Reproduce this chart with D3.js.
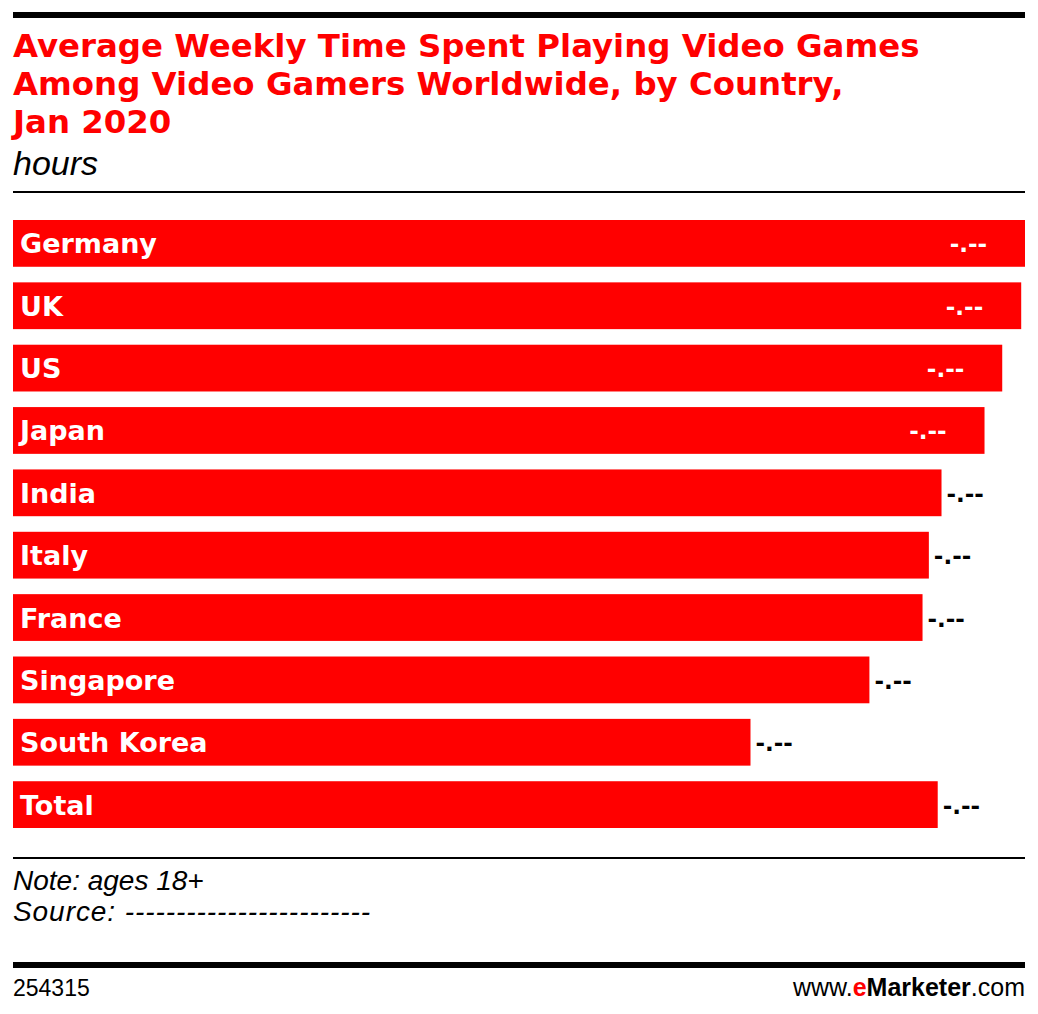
<!DOCTYPE html>
<html><head><meta charset="utf-8">
<script src="https://cdn.jsdelivr.net/npm/d3@7"></script>
<style>body{margin:0;background:#fff}</style>
</head><body><div id="canvas"></div>
<script>
const countries = ["Germany","UK","US","Japan","India","Italy","France","Singapore","South Korea","Total"];
const hours = [8.00,7.97,7.82,7.68,7.34,7.24,7.19,6.77,5.83,7.31];
const valueLabels = ["-.--","-.--","-.--","-.--","-.--","-.--","-.--","-.--","-.--","-.--"];
const titleLines = ["Average Weekly Time Spent Playing Video Games","Among Video Gamers Worldwide, by Country,","Jan 2020"];

const W = 1038, H = 1014, red = "#ff0000";
const boldFont = "'DejaVu Sans', sans-serif";
const font = "'Liberation Sans', Arial, sans-serif";
const svg = d3.select("#canvas").append("svg").attr("width", W).attr("height", H)
  .style("font-family", font);

svg.append("rect").attr("x", 13).attr("y", 12).attr("width", 1012).attr("height", 6).attr("fill", "#000");

svg.selectAll(".title").data(titleLines).enter().append("text")
  .attr("x", 13).attr("y", (d, i) => 57 + i * 38)
  .style("font-family", boldFont)
  .attr("font-size", 32.4).attr("font-weight", "bold").attr("fill", red)
  .text(d => d);
svg.append("text").attr("x", 13).attr("y", 175).attr("font-size", 34)
  .attr("font-style", "italic").text("hours");
svg.append("rect").attr("x", 13).attr("y", 191).attr("width", 1012).attr("height", 2).attr("fill", "#000");

const x = d3.scaleLinear().domain([0, 8]).range([13, 1025]);
const y = d3.scaleBand().domain(countries).range([220, 828]).paddingInner(0.25).paddingOuter(0);

const g = svg.selectAll(".bar").data(countries).enter().append("g");
g.append("rect").attr("x", x(0)).attr("y", d => y(d))
  .attr("width", (d, i) => x(hours[i]) - x(0)).attr("height", y.bandwidth()).attr("fill", red);
g.append("text").attr("x", 20).attr("y", d => y(d) + y.bandwidth() / 2 + 10)
  .style("font-family", boldFont)
  .attr("font-size", 27).attr("font-weight", "bold").attr("fill", "#fff").text(d => d);
g.append("text")
  .attr("x", (d, i) => x(hours[i]) > 960 ? x(hours[i]) - 38 : x(hours[i]) + 5)
  .attr("text-anchor", (d, i) => x(hours[i]) > 960 ? "end" : "start")
  .attr("y", d => y(d) + y.bandwidth() / 2 + 9)
  .style("font-family", boldFont)
  .attr("font-size", 23).attr("font-weight", "bold")
  .attr("fill", (d, i) => x(hours[i]) > 960 ? "#fff" : "#000")
  .text((d, i) => valueLabels[i]);

svg.append("rect").attr("x", 13).attr("y", 857).attr("width", 1012).attr("height", 2).attr("fill", "#000");
svg.append("text").attr("x", 13).attr("y", 890).attr("font-size", 28).attr("font-style", "italic").text("Note: ages 18+");
svg.append("text").attr("x", 13).attr("y", 921).attr("font-size", 28).attr("font-style", "italic").text("Source: ------------------------")
  .attr("textLength", 357);
svg.append("rect").attr("x", 13).attr("y", 962).attr("width", 1012).attr("height", 6).attr("fill", "#000");
svg.append("text").attr("x", 13).attr("y", 996).attr("font-size", 23).text("254315");
const em = svg.append("text").attr("x", 1025).attr("y", 996).attr("font-size", 25).attr("text-anchor", "end");
em.append("tspan").text("www.");
em.append("tspan").attr("fill", red).attr("font-weight", "bold").text("e");
em.append("tspan").attr("font-weight", "bold").text("Marketer");
em.append("tspan").text(".com");
</script></body></html>
